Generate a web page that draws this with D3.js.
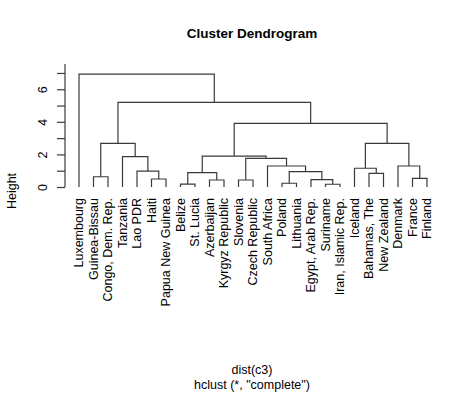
<!DOCTYPE html>
<html>
<head>
<meta charset="utf-8">
<script src="https://cdn.jsdelivr.net/npm/d3@7"></script>
<style>
  body { margin: 0; background: #fff; }
  svg text { font-family: "Liberation Sans", Arial, Helvetica, sans-serif; fill: #000; }
</style>
</head>
<body>
<svg id="chart" width="474" height="395"></svg>
<script>
// leaves, in the order they appear along the bottom
var labels = ["Luxembourg", "Guinea-Bissau", "Congo, Dem. Rep.", "Tanzania", "Lao PDR",
  "Haiti", "Papua New Guinea", "Belize", "St. Lucia", "Azerbaijan", "Kyrgyz Republic",
  "Slovenia", "Czech Republic", "South Africa", "Poland", "Lithuania", "Egypt, Arab Rep.",
  "Suriname", "Iran, Islamic Rep.", "Iceland", "Bahamas, The", "New Zealand", "Denmark",
  "France", "Finland"]

// R style merge table: negative = leaf (1-based), positive = earlier merge step
var mergeLeft  = [-18, -8, -15, -17, -10, -12, -6, -24, -2, -21, 2, 3, -5, -20, -14, -23, 6, -4, 11, 14, 9, 19, 21, -1]
var mergeRight = [-19, -9, -16, 1, -11, -13, -7, -25, -3, -22, 5, 4, 7, 10, 12, 8, 15, 13, 17, 16, 18, 20, 22, 23]
var mergeHeight = [0.17, 0.18, 0.23, 0.45, 0.43, 0.43, 0.49, 0.53, 0.63, 0.84, 0.88, 0.94,
  0.98, 1.15, 1.29, 1.29, 1.76, 1.86, 1.90, 2.68, 2.68, 3.90, 5.20, 6.93]

var yTicks = [0, 1, 2, 3, 4, 5, 6, 7]

var svg = d3.select("#chart")

var x = d3.scalePoint().domain(labels).range([79, 427])
var y = d3.scaleLinear().domain([0, 7.55]).range([187, 64])

// build nested tree from merge table
var steps = []
function ref(i) { return i < 0 ? { name: labels[-i - 1], height: 0 } : steps[i - 1] }
for (var i = 0; i < mergeHeight.length; i++) {
  steps.push({ height: mergeHeight[i], children: [ref(mergeLeft[i]), ref(mergeRight[i])] })
}
var root = d3.hierarchy(steps[steps.length - 1])

// x of a node = midpoint of its two children (like plot.hclust)
root.eachAfter(function(d) {
  if (!d.children) d.px = x(d.data.name)
  else d.px = (d.children[0].px + d.children[1].px) / 2
})

var g = svg.append("g")

root.each(function(d) {
  if (!d.children) return
  var yp = y(d.data.height)
  var a = d.children[0], b = d.children[1]
  g.append("path")
    .attr("d", "M" + a.px + "," + y(a.data.height) + "V" + yp + "H" + b.px + "V" + y(b.data.height))
    .attr("fill", "none")
    .attr("stroke", "#3a3a3a")
    .attr("stroke-width", 1.2)
})

// leaf labels
g.selectAll(".leaf")
  .data(root.leaves())
  .enter().append("text")
    .attr("class", "leaf")
    .attr("transform", function(d) { return "translate(" + d.px + ",198) rotate(-90)" })
    .attr("text-anchor", "end")
    .attr("dy", "0.35em")
    .style("font-size", "12.5px")
    .text(function(d) { return d.data.name })

// y axis
var yAxis = d3.axisLeft(y)
  .tickValues(yTicks)
  .tickSize(8)
  .tickFormat(function(d) { return d % 2 == 0 ? d : "" })

var ax = svg.append("g")
  .attr("transform", "translate(65,0)")
  .call(yAxis)
ax.select(".domain").attr("d", "M0," + y(0) + "V64").attr("stroke", "#3a3a3a").attr("stroke-width", 1.2)
ax.selectAll(".tick line").attr("stroke", "#3a3a3a").attr("stroke-width", 1.2)
ax.selectAll(".tick text")
  .attr("transform", "rotate(-90)")
  .attr("x", 0).attr("y", -22).attr("dy", "0.35em")
  .attr("text-anchor", "middle")
  .style("font-size", "12.5px")
  .style("font-family", "Liberation Sans, Arial, sans-serif")

svg.append("text")
  .attr("transform", "translate(12,191) rotate(-90)")
  .attr("text-anchor", "middle")
  .attr("dy", "0.35em")
  .style("font-size", "12.5px")
  .text("Height")

svg.append("text")
  .attr("x", 252).attr("y", 33)
  .attr("text-anchor", "middle")
  .attr("dy", "0.35em")
  .style("font-size", "13.5px")
  .style("font-weight", "bold")
  .text("Cluster Dendrogram")

svg.append("text")
  .attr("x", 252).attr("y", 370)
  .attr("text-anchor", "middle")
  .attr("dy", "0.35em")
  .style("font-size", "12.5px")
  .text("dist(c3)")

svg.append("text")
  .attr("x", 252).attr("y", 385)
  .attr("text-anchor", "middle")
  .attr("dy", "0.35em")
  .style("font-size", "12.5px")
  .text('hclust (*, "complete")')
</script>
</body>
</html>
